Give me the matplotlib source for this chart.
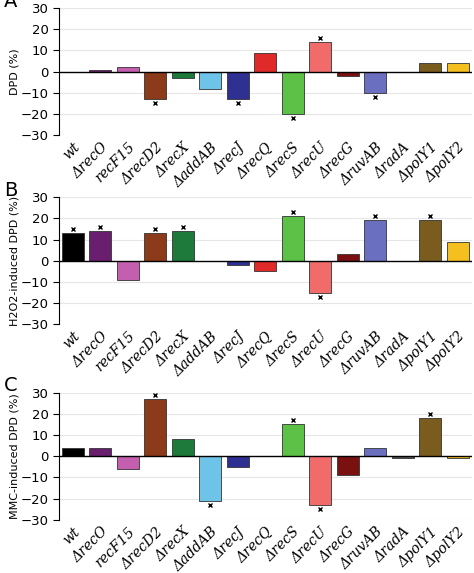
import matplotlib
matplotlib.use("Agg")
from matplotlib import pyplot as plt
import numpy as np

strains = ["wt", "ΔrecO", "recF15", "ΔrecD2", "ΔrecX", "ΔaddAB", "ΔrecJ", "ΔrecQ",
           "ΔrecS", "ΔrecU", "ΔrecG", "ΔruvAB", "ΔradA", "ΔpolY1", "ΔpolY2"]
colors = ["#000000", "#6a1f6e", "#c45fb0", "#8b3a1a", "#1e7a3a", "#6ec3e8", "#2e3192", "#e02a2a",
          "#5cc146", "#f26b6b", "#7a1010", "#6b6fbf", "#555555", "#7a5c1e", "#f5c01f"]

dpd = [0, 1, 2, -13, -3, -8, -13, 9, -20, 14, -2, -10, 0, 4, 4]
dpd_sig = [0, 0, 0, 1, 0, 0, 1, 0, 1, 1, 0, 1, 0, 0, 0]
h2o2 = [13, 14, -9, 13, 14, 0, -2, -5, 21, -15, 3, 19, 0, 19, 9]
h2o2_sig = [1, 1, 0, 1, 1, 0, 0, 0, 1, 1, 0, 1, 0, 1, 0]
mmc = [4, 4, -6, 27, 8, -21, -5, 0, 15, -23, -9, 4, -1, 18, -1]
mmc_sig = [0, 0, 0, 1, 0, 1, 0, 0, 1, 1, 0, 0, 0, 1, 0]

panels = [("A", "DPD (%)", dpd, dpd_sig, 0.764),
          ("B", "H2O2-induced DPD (%)", h2o2, h2o2_sig, 0.434),
          ("C", "MMC-induced DPD (%)", mmc, mmc_sig, 0.093)]

fig = plt.figure(figsize=(4.74, 5.73), dpi=100)
x = np.arange(len(strains))
for letter, ylab, vals, sig, bottom in panels:
    ax = fig.add_axes([0.125, bottom, 0.87, 0.222])
    ax.yaxis.grid(True, color="#e6e6e6", lw=0.8)
    ax.set_axisbelow(True)
    ax.bar(x, vals, width=0.8, color=colors, edgecolor="#333333", linewidth=0.6)
    ax.axhline(0, color="black", lw=1)
    for xi, v, s in zip(x, vals, sig):
        if s:
            y = v + 2 if v > 0 else v - 2
            ax.plot(xi, y, marker="x", color="black", ms=3, mew=1)
    ax.set_ylim(-30, 30)
    ax.set_xlim(-0.5, len(strains) - 0.5)
    ax.set_yticks([-30, -20, -10, 0, 10, 20, 30])
    ax.tick_params(axis="y", labelsize=9.5, length=4)
    ax.tick_params(axis="x", length=0)
    for sp in ["top", "right", "bottom"]:
        ax.spines[sp].set_visible(False)
    ax.set_ylabel(ylab, fontsize=8, labelpad=1)
    ax.set_xticks(x)
    ax.set_xticklabels(strains, rotation=45, ha="right", rotation_mode="anchor",
                       fontstyle="italic", family="DejaVu Serif", fontsize=10)
    fig.text(0.008, bottom + 0.222 + 0.012, letter, fontsize=14, va="center", ha="left")

fig.savefig("out.png", dpi=100)
